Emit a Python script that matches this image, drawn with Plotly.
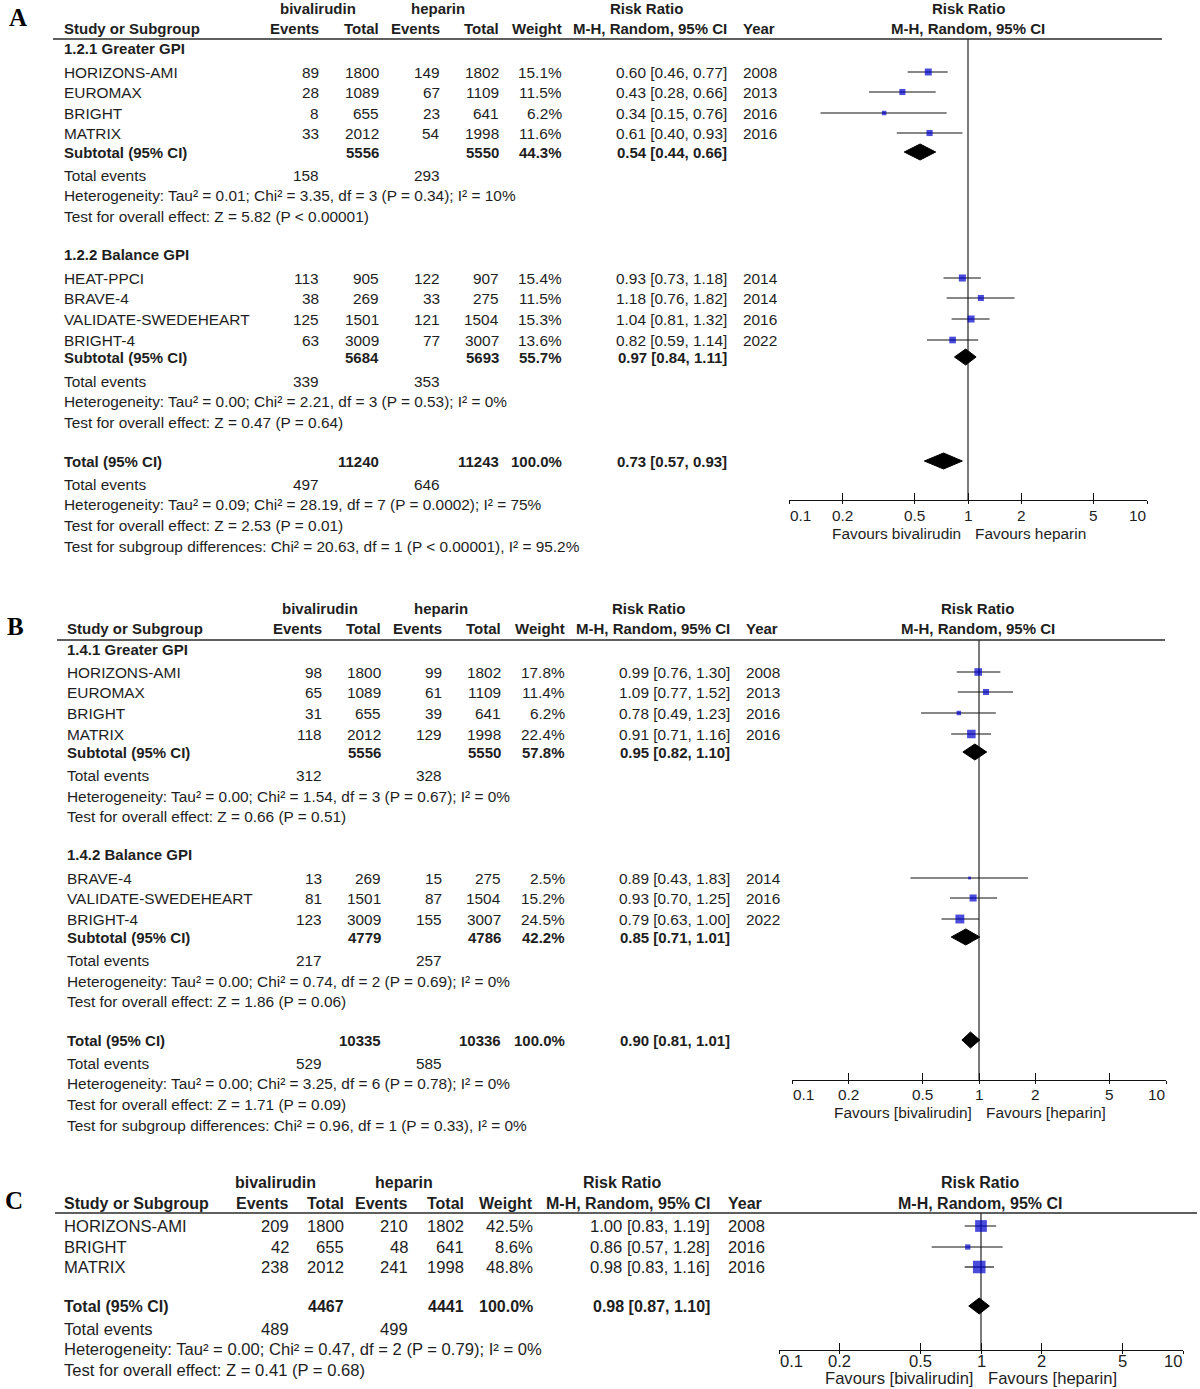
import plotly.graph_objects as go
import math

W, H = 1200, 1389          # reference picture size
SANS = "Liberation Sans"
SERIF = "Liberation Serif"
TXT = "#1e1e1e"
BLUE = "#0000CC"

# ---------------- Panel A data ----------------
A_g1_title = "1.2.1 Greater GPI"
A_g1_study = ["HORIZONS-AMI", "EUROMAX", "BRIGHT", "MATRIX"]
A_g1_ev_b = [89, 28, 8, 33]
A_g1_tot_b = [1800, 1089, 655, 2012]
A_g1_ev_h = [149, 67, 23, 54]
A_g1_tot_h = [1802, 1109, 641, 1998]
A_g1_wt = [15.1, 11.5, 6.2, 11.6]
A_g1_rr = [0.60, 0.43, 0.34, 0.61]
A_g1_lo = [0.46, 0.28, 0.15, 0.40]
A_g1_hi = [0.77, 0.66, 0.76, 0.93]
A_g1_year = [2008, 2013, 2016, 2016]
A_g1_sub = [5556, 5550, 44.3, 0.54, 0.44, 0.66]   # tot_b, tot_h, weight, rr, lo, hi
A_g1_events = [158, 293]
A_g1_het = "Heterogeneity: Tau² = 0.01; Chi² = 3.35, df = 3 (P = 0.34); I² = 10%"
A_g1_z = "Test for overall effect: Z = 5.82 (P < 0.00001)"

A_g2_title = "1.2.2 Balance GPI"
A_g2_study = ["HEAT-PPCI", "BRAVE-4", "VALIDATE-SWEDEHEART", "BRIGHT-4"]
A_g2_ev_b = [113, 38, 125, 63]
A_g2_tot_b = [905, 269, 1501, 3009]
A_g2_ev_h = [122, 33, 121, 77]
A_g2_tot_h = [907, 275, 1504, 3007]
A_g2_wt = [15.4, 11.5, 15.3, 13.6]
A_g2_rr = [0.93, 1.18, 1.04, 0.82]
A_g2_lo = [0.73, 0.76, 0.81, 0.59]
A_g2_hi = [1.18, 1.82, 1.32, 1.14]
A_g2_year = [2014, 2014, 2016, 2022]
A_g2_sub = [5684, 5693, 55.7, 0.97, 0.84, 1.11]
A_g2_events = [339, 353]
A_g2_het = "Heterogeneity: Tau² = 0.00; Chi² = 2.21, df = 3 (P = 0.53); I² = 0%"
A_g2_z = "Test for overall effect: Z = 0.47 (P = 0.64)"

A_total = [11240, 11243, 100.0, 0.73, 0.57, 0.93]
A_total_events = [497, 646]
A_total_het = "Heterogeneity: Tau² = 0.09; Chi² = 28.19, df = 7 (P = 0.0002); I² = 75%"
A_total_z = "Test for overall effect: Z = 2.53 (P = 0.01)"
A_subdiff = "Test for subgroup differences: Chi² = 20.63, df = 1 (P < 0.00001), I² = 95.2%"
A_favours = ["Favours bivalirudin", "Favours heparin"]

# ---------------- Panel B data ----------------
B_g1_title = "1.4.1 Greater GPI"
B_g1_study = ["HORIZONS-AMI", "EUROMAX", "BRIGHT", "MATRIX"]
B_g1_ev_b = [98, 65, 31, 118]
B_g1_tot_b = [1800, 1089, 655, 2012]
B_g1_ev_h = [99, 61, 39, 129]
B_g1_tot_h = [1802, 1109, 641, 1998]
B_g1_wt = [17.8, 11.4, 6.2, 22.4]
B_g1_rr = [0.99, 1.09, 0.78, 0.91]
B_g1_lo = [0.76, 0.77, 0.49, 0.71]
B_g1_hi = [1.30, 1.52, 1.23, 1.16]
B_g1_year = [2008, 2013, 2016, 2016]
B_g1_sub = [5556, 5550, 57.8, 0.95, 0.82, 1.10]
B_g1_events = [312, 328]
B_g1_het = "Heterogeneity: Tau² = 0.00; Chi² = 1.54, df = 3 (P = 0.67); I² = 0%"
B_g1_z = "Test for overall effect: Z = 0.66 (P = 0.51)"

B_g2_title = "1.4.2 Balance GPI"
B_g2_study = ["BRAVE-4", "VALIDATE-SWEDEHEART", "BRIGHT-4"]
B_g2_ev_b = [13, 81, 123]
B_g2_tot_b = [269, 1501, 3009]
B_g2_ev_h = [15, 87, 155]
B_g2_tot_h = [275, 1504, 3007]
B_g2_wt = [2.5, 15.2, 24.5]
B_g2_rr = [0.89, 0.93, 0.79]
B_g2_lo = [0.43, 0.70, 0.63]
B_g2_hi = [1.83, 1.25, 1.00]
B_g2_year = [2014, 2016, 2022]
B_g2_sub = [4779, 4786, 42.2, 0.85, 0.71, 1.01]
B_g2_events = [217, 257]
B_g2_het = "Heterogeneity: Tau² = 0.00; Chi² = 0.74, df = 2 (P = 0.69); I² = 0%"
B_g2_z = "Test for overall effect: Z = 1.86 (P = 0.06)"

B_total = [10335, 10336, 100.0, 0.90, 0.81, 1.01]
B_total_events = [529, 585]
B_total_het = "Heterogeneity: Tau² = 0.00; Chi² = 3.25, df = 6 (P = 0.78); I² = 0%"
B_total_z = "Test for overall effect: Z = 1.71 (P = 0.09)"
B_subdiff = "Test for subgroup differences: Chi² = 0.96, df = 1 (P = 0.33), I² = 0%"
B_favours = ["Favours [bivalirudin]", "Favours [heparin]"]

# ---------------- Panel C data ----------------
C_study = ["HORIZONS-AMI", "BRIGHT", "MATRIX"]
C_ev_b = [209, 42, 238]
C_tot_b = [1800, 655, 2012]
C_ev_h = [210, 48, 241]
C_tot_h = [1802, 641, 1998]
C_wt = [42.5, 8.6, 48.8]
C_rr = [1.00, 0.86, 0.98]
C_lo = [0.83, 0.57, 0.83]
C_hi = [1.19, 1.28, 1.16]
C_year = [2008, 2016, 2016]
C_total = [4467, 4441, 100.0, 0.98, 0.87, 1.10]
C_total_events = [489, 499]
C_total_het = "Heterogeneity: Tau² = 0.00; Chi² = 0.47, df = 2 (P = 0.79); I² = 0%"
C_total_z = "Test for overall effect: Z = 0.41 (P = 0.68)"
C_favours = ["Favours [bivalirudin]", "Favours [heparin]"]

TICK_VALS = [0.1, 0.2, 0.5, 1, 2, 5, 10]
TICK_TEXT = ["0.1", "0.2", "0.5", "1", "2", "5", "10"]

# ---------------- Layout (pixel positions in the reference picture) ----------------
LAY_A = dict(label="A", label_xy=(8, 17), hdr1=8, hdr2=28, line_y=39, line_x=(53, 1162),
             cols=dict(name=63, evb=320, totb=380, evh=441, toth=500, wt=563, rr=728, year=742),
             hc=dict(biv=318, hep=438, rr=646, forest=968),
             axis_px=(789, 1147), axis_y=500, tick_y=515, fav_y=533, fs=15, fsr=15.4,
             groups=[dict(title=48, rows=[72, 92, 113, 133], sub=152, tev=175, het=195, z=216),
                     dict(title=254, rows=[278, 298, 319, 340], sub=357, tev=381, het=401, z=422)],
             total=461, ttev=484, thet=504, tz=525, sdiff=546)
LAY_B = dict(label="B", label_xy=(6, 626), hdr1=608, hdr2=628, line_y=640, line_x=(57, 1165),
             cols=dict(name=66, evb=323, totb=382, evh=443, toth=502, wt=566, rr=731, year=745),
             hc=dict(biv=320, hep=441, rr=648, forest=978),
             axis_px=(792, 1166), axis_y=1080, tick_y=1094, fav_y=1112, fs=15, fsr=15.4,
             groups=[dict(title=649, rows=[672, 692, 713, 734], sub=752, tev=775, het=796, z=816),
                     dict(title=854, rows=[878, 898, 919], sub=937, tev=960, het=981, z=1001)],
             total=1040, ttev=1063, thet=1083, tz=1104, sdiff=1125)
LAY_C = dict(label="C", label_xy=(4, 1200), hdr1=1182, hdr2=1203, line_y=1213, line_x=(55, 1197),
             cols=dict(name=63, evb=290, totb=345, evh=409, toth=465, wt=534, rr=711, year=727),
             hc=dict(biv=275, hep=404, rr=622, forest=980),
             axis_px=(779, 1183), axis_y=1350, tick_y=1361, fav_y=1378, fs=16, fsr=16.6,
             groups=[dict(title=None, rows=[1226, 1247, 1267], sub=None, tev=None, het=None, z=None)],
             total=1306, ttev=1329, thet=1349, tz=1370, sdiff=None)

annotations = []
shapes = []
traces = []
layout_axes = {}


def px(x):
    return x / W


def txt(x, y, s, anchor="left", bold=False, size=15, color=TXT, family=SANS):
    s = str(s).replace("<", "&lt;")
    if bold:
        s = "<b>" + s + "</b>"
    annotations.append(dict(x=px(x), y=y, xref="paper", yref="y", text=s, showarrow=False,
                            xanchor=anchor, yanchor="middle", borderpad=0,
                            font=dict(family=family, size=size, color=color)))


def rr_str(rr, lo, hi):
    return f"{rr:.2f} [{lo:.2f}, {hi:.2f}]"


def draw_panel(L, groups, total, total_events, total_het, total_z, subdiff, favours, axis_no):
    c = L["cols"]
    hc = L["hc"]
    fs = L["fs"]
    fr = L["fsr"]
    xa = "x%d" % axis_no
    xo = "x%d" % (axis_no + 3)     # overlay axis for the downward half of the ticks
    # panel letter
    txt(L["label_xy"][0], L["label_xy"][1], L["label"], "left", True, 25, "#000", SERIF)
    # headers
    txt(hc["biv"], L["hdr1"], "bivalirudin", "center", True, fs)
    txt(hc["hep"], L["hdr1"], "heparin", "center", True, fs)
    txt(hc["rr"], L["hdr1"], "Risk Ratio", "center", True, fs)
    txt(hc["forest"], L["hdr1"], "Risk Ratio", "center", True, fs)
    txt(c["name"], L["hdr2"], "Study or Subgroup", "left", True, fs)
    txt(c["evb"], L["hdr2"], "Events", "right", True, fs)
    txt(c["totb"], L["hdr2"], "Total", "right", True, fs)
    txt(c["evh"], L["hdr2"], "Events", "right", True, fs)
    txt(c["toth"], L["hdr2"], "Total", "right", True, fs)
    txt(c["wt"], L["hdr2"], "Weight", "right", True, fs)
    txt(c["rr"], L["hdr2"], "M-H, Random, 95% CI", "right", True, fs)
    txt(c["year"], L["hdr2"], "Year", "left", True, fs)
    txt(hc["forest"], L["hdr2"], "M-H, Random, 95% CI", "center", True, fs)
    shapes.append(dict(type="line", xref="paper", yref="y", x0=px(L["line_x"][0]), x1=px(L["line_x"][1]),
                       y0=L["line_y"], y1=L["line_y"], line=dict(color="#2a2a2a", width=1.6)))

    ci_x, ci_y, sq_x, sq_y, sq_s = [], [], [], [], []
    diamonds = []
    for g, gl in zip(groups, L["groups"]):
        if g["title"] is not None:
            txt(c["name"], gl["title"], g["title"], "left", True, fs)
        for i, yy in enumerate(gl["rows"]):
            txt(c["name"], yy, g["study"][i], "left", False, fr)
            txt(c["evb"], yy, g["ev_b"][i], "right", False, fr)
            txt(c["totb"], yy, g["tot_b"][i], "right", False, fr)
            txt(c["evh"], yy, g["ev_h"][i], "right", False, fr)
            txt(c["toth"], yy, g["tot_h"][i], "right", False, fr)
            txt(c["wt"], yy, f"{g['wt'][i]:.1f}%", "right", False, fr)
            txt(c["rr"], yy, rr_str(g["rr"][i], g["lo"][i], g["hi"][i]), "right", False, fr)
            txt(c["year"], yy, g["year"][i], "left", False, fr)
            ci_x += [g["lo"][i], g["hi"][i], None]
            ci_y += [yy, yy, None]
            sq_x.append(g["rr"][i])
            sq_y.append(yy)
            sq_s.append(1.8 * math.sqrt(g["wt"][i]))
        if g.get("sub") is not None:
            s = g["sub"]
            yy = gl["sub"]
            txt(c["name"], yy, "Subtotal (95% CI)", "left", True, fs)
            txt(c["totb"], yy, s[0], "right", True, fs)
            txt(c["toth"], yy, s[1], "right", True, fs)
            txt(c["wt"], yy, f"{s[2]:.1f}%", "right", True, fs)
            txt(c["rr"], yy, rr_str(s[3], s[4], s[5]), "right", True, fs)
            diamonds.append((s[3], s[4], s[5], yy))
            txt(c["name"], gl["tev"], "Total events", "left", False, fr)
            txt(c["evb"], gl["tev"], g["events"][0], "right", False, fr)
            txt(c["evh"], gl["tev"], g["events"][1], "right", False, fr)
            txt(c["name"], gl["het"], g["het"], "left", False, fr)
            txt(c["name"], gl["z"], g["z"], "left", False, fr)

    yy = L["total"]
    txt(c["name"], yy, "Total (95% CI)", "left", True, fs)
    txt(c["totb"], yy, total[0], "right", True, fs)
    txt(c["toth"], yy, total[1], "right", True, fs)
    txt(c["wt"], yy, f"{total[2]:.1f}%", "right", True, fs)
    txt(c["rr"], yy, rr_str(total[3], total[4], total[5]), "right", True, fs)
    diamonds.append((total[3], total[4], total[5], yy))
    txt(c["name"], L["ttev"], "Total events", "left", False, fr)
    txt(c["evb"], L["ttev"], total_events[0], "right", False, fr)
    txt(c["evh"], L["ttev"], total_events[1], "right", False, fr)
    txt(c["name"], L["thet"], total_het, "left", False, fr)
    txt(c["name"], L["tz"], total_z, "left", False, fr)
    if subdiff:
        txt(c["name"], L["sdiff"], subdiff, "left", False, fr)

    # forest: reference line at RR = 1
    traces.append(go.Scatter(x=[1, 1], y=[L["line_y"], L["axis_y"]], mode="lines",
                             line=dict(color="#222", width=1.2), xaxis=xa, yaxis="y",
                             hoverinfo="skip", showlegend=False, cliponaxis=False))
    traces.append(go.Scatter(x=ci_x, y=ci_y, mode="lines", line=dict(color="#111", width=1.2),
                             xaxis=xa, yaxis="y", hoverinfo="skip", showlegend=False, cliponaxis=False))
    traces.append(go.Scatter(x=sq_x, y=sq_y, mode="markers",
                             marker=dict(symbol="square", size=sq_s, color=BLUE, line=dict(width=0)),
                             xaxis=xa, yaxis="y", hoverinfo="skip", showlegend=False, cliponaxis=False))
    for rr, lo, hi, yy in diamonds:
        hh = 8
        traces.append(go.Scatter(x=[lo, rr, hi, rr, lo], y=[yy, yy - hh, yy, yy + hh, yy],
                                 mode="lines", fill="toself", fillcolor="black",
                                 line=dict(color="black", width=1), xaxis=xa, yaxis="y",
                                 hoverinfo="skip", showlegend=False))
    # invisible anchor trace so the overlay axis is drawn
    traces.append(go.Scatter(x=[1], y=[L["axis_y"]], mode="markers", opacity=0, xaxis=xo, yaxis="y",
                             hoverinfo="skip", showlegend=False))
    x0, x1 = L["axis_px"]
    common = dict(type="log", range=[-1, 1], domain=[px(x0), px(x1)], anchor="free",
                  position=1 - L["axis_y"] / H, automargin=False, tickvals=TICK_VALS,
                  showticklabels=False, showgrid=False, zeroline=False, fixedrange=True,
                  tickwidth=1.3, tickcolor="#111")
    layout_axes["xaxis%d" % axis_no] = dict(common, showline=True, linecolor="#111", linewidth=1.3,
                                            ticks="inside", ticklen=7)
    layout_axes["xaxis%d" % (axis_no + 3)] = dict(common, overlaying=xa, showline=False,
                                                  ticks="outside", ticklen=3)
    # tick labels (end labels tucked inside the axis like RevMan)
    n = len(TICK_VALS)
    for k, (tv, tt) in enumerate(zip(TICK_VALS, TICK_TEXT)):
        anc = "left" if k == 0 else ("right" if k == n - 1 else "center")
        annotations.append(dict(x=math.log10(tv), y=L["tick_y"], xref=xa, yref="y", text=tt,
                                showarrow=False, xanchor=anc, yanchor="middle", borderpad=0,
                                font=dict(family=SANS, size=fr, color=TXT)))
    annotations.append(dict(x=0, y=L["fav_y"], xref=xa, yref="y", text=favours[0], showarrow=False,
                            xanchor="right", yanchor="middle", xshift=-5,
                            font=dict(family=SANS, size=fr, color=TXT)))
    annotations.append(dict(x=0, y=L["fav_y"], xref=xa, yref="y", text=favours[1], showarrow=False,
                            xanchor="left", yanchor="middle", xshift=5,
                            font=dict(family=SANS, size=fr, color=TXT)))


def grp(title, study, ev_b, tot_b, ev_h, tot_h, wt, rr, lo, hi, year, sub=None, events=None, het=None, z=None):
    return dict(title=title, study=study, ev_b=ev_b, tot_b=tot_b, ev_h=ev_h, tot_h=tot_h, wt=wt,
                rr=rr, lo=lo, hi=hi, year=year, sub=sub, events=events, het=het, z=z)


draw_panel(LAY_A,
           [grp(A_g1_title, A_g1_study, A_g1_ev_b, A_g1_tot_b, A_g1_ev_h, A_g1_tot_h, A_g1_wt,
                A_g1_rr, A_g1_lo, A_g1_hi, A_g1_year, A_g1_sub, A_g1_events, A_g1_het, A_g1_z),
            grp(A_g2_title, A_g2_study, A_g2_ev_b, A_g2_tot_b, A_g2_ev_h, A_g2_tot_h, A_g2_wt,
                A_g2_rr, A_g2_lo, A_g2_hi, A_g2_year, A_g2_sub, A_g2_events, A_g2_het, A_g2_z)],
           A_total, A_total_events, A_total_het, A_total_z, A_subdiff, A_favours, 2)

draw_panel(LAY_B,
           [grp(B_g1_title, B_g1_study, B_g1_ev_b, B_g1_tot_b, B_g1_ev_h, B_g1_tot_h, B_g1_wt,
                B_g1_rr, B_g1_lo, B_g1_hi, B_g1_year, B_g1_sub, B_g1_events, B_g1_het, B_g1_z),
            grp(B_g2_title, B_g2_study, B_g2_ev_b, B_g2_tot_b, B_g2_ev_h, B_g2_tot_h, B_g2_wt,
                B_g2_rr, B_g2_lo, B_g2_hi, B_g2_year, B_g2_sub, B_g2_events, B_g2_het, B_g2_z)],
           B_total, B_total_events, B_total_het, B_total_z, B_subdiff, B_favours, 3)

draw_panel(LAY_C,
           [grp(None, C_study, C_ev_b, C_tot_b, C_ev_h, C_tot_h, C_wt, C_rr, C_lo, C_hi, C_year)],
           C_total, C_total_events, C_total_het, C_total_z, None, C_favours, 4)

fig = go.Figure(data=traces)
fig.update_layout(
    template="none",
    width=W, height=H, margin=dict(l=0, r=0, t=0, b=0, pad=0, autoexpand=False),
    paper_bgcolor="white", plot_bgcolor="rgba(0,0,0,0)", showlegend=False,
    xaxis=dict(range=[0, W], domain=[0, 1], visible=False, fixedrange=True, automargin=False),
    yaxis=dict(range=[H, 0], domain=[0, 1], visible=False, fixedrange=True, automargin=False),
    annotations=annotations, shapes=shapes, **layout_axes)
# place the figure flush with the page corner (remove the browser's default body margin)
fig.write_html("out.html", config={"displayModeBar": False},
               post_script="document.body.style.margin='0';document.body.style.overflow='hidden';")
